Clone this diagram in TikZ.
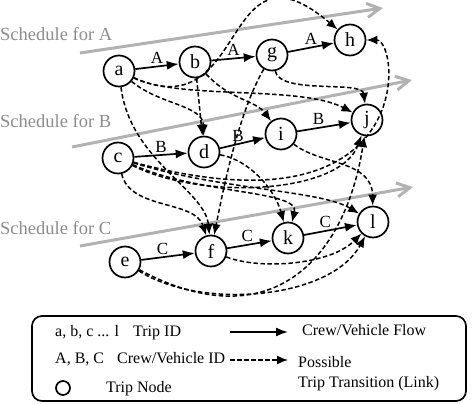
\documentclass[tikz,border=0pt]{standalone}
\usepackage{fontspec}
\setmainfont{Liberation Serif}
\usetikzlibrary{arrows.meta}
\begin{document}
\begin{tikzpicture}[x=1pt,y=-1pt]
\tikzstyle{trip}=[circle,draw,line width=1.7pt,fill=white,minimum size=31pt,inner sep=0pt,font=\fontsize{20}{22}\selectfont]
\tikzstyle{flow}=[line width=1.7pt,-{Latex[length=12pt,width=9pt]}]
\tikzstyle{link}=[line width=1.5pt,dash pattern=on 4.5pt off 2.5pt,-{Latex[length=11pt,width=9pt]}]
\tikzstyle{sched}=[line width=3pt,gray!60,-{Straight Barb[length=13pt,width=14pt]}]
\tikzstyle{schedtext}=[anchor=base west,inner sep=0pt,black!45,font=\fontsize{18.5}{20}\selectfont]
\tikzstyle{crew}=[font=\fontsize{17}{18}\selectfont,inner sep=2pt]
\tikzstyle{legend}=[anchor=base west,inner sep=0pt,font=\fontsize{16}{18}\selectfont]
\useasboundingbox (0,0) rectangle (474,404);
% schedules
\coordinate (schedA0) at (80,53);  \coordinate (schedA1) at (383,8);
\coordinate (schedB0) at (72,147); \coordinate (schedB1) at (412,80);
\coordinate (schedC0) at (80,246); \coordinate (schedC1) at (413,187);
\draw[sched] (schedA0) -- (schedA1);
\draw[sched] (schedB0) -- (schedB1);
\draw[sched] (schedC0) -- (schedC1);
\node[schedtext] (labA) at (0,41) {Schedule for A};
\node[schedtext] (labB) at (0,128) {Schedule for B};
\node[schedtext] (labC) at (0,234) {Schedule for C};
% trips
\node[trip] (a) at (119,71) {a};
\node[trip] (b) at (195,62) {b};
\node[trip] (g) at (272,55) {g};
\node[trip] (h) at (350,40) {h};
\node[trip] (c) at (118,158) {c};
\node[trip] (d) at (204,152) {d};
\node[trip] (i) at (281,134) {i};
\node[trip] (j) at (367,120) {j};
\node[trip] (e) at (125,262) {e};
\node[trip] (f) at (211,251) {f};
\node[trip] (k) at (288,238) {k};
\node[trip] (l) at (373,222) {l};
% crew/vehicle flow
\draw[flow] (a) -- node[crew,above] {A} (b);
\draw[flow] (b) -- node[crew,above] {A} (g);
\draw[flow] (g) -- node[crew,above] {A} (h);
\draw[flow] (c) -- node[crew,above] {B} (d);
\draw[flow] (d) -- node[crew,above,pos=0.4] {B} (i);
\draw[flow] (i) -- node[crew,above,pos=0.4] {B} (j);
\draw[flow] (e) -- node[crew,above,pos=0.4] {C} (f);
\draw[flow] (f) -- node[crew,above,pos=0.45] {C} (k);
\draw[flow] (k) -- node[crew,above,pos=0.4] {C} (l);
% possible links
\draw[link] (a) .. controls (250,130) and (220,-70) .. (h);
\draw[link] (a) .. controls (160,105) and (203,105) .. (d);
\draw[link] (a) .. controls (180,100) and (300,85) .. (j);
\draw[link] (a) .. controls (130,160) and (205,190) .. (f);
\draw[link] (b) -- (d);
\draw[link] (b) .. controls (230,100) and (255,100) .. (i);
\draw[link] (g) .. controls (280,95) and (362,80) .. (j);
\draw[link] (g) .. controls (240,110) and (225,180) .. (f);
\draw[link] (d) .. controls (250,160) and (275,190) .. (k);
\draw[link] (c) .. controls (130,210) and (195,200) .. (f);
\draw[link] (c) .. controls (200,195) and (300,190) .. (k);
\draw[link] (c) .. controls (220,190) and (320,190) .. (l);
\draw[link] (c) .. controls (200,200) and (340,195) .. (j);
\draw[link] (c) .. controls (420,240) and (400,40) .. (h);
\draw[link] (i) .. controls (320,165) and (372,160) .. (l);
\draw[link] (e) .. controls (200,310) and (330,300) .. (l);
\draw[link] (e) .. controls (270,340) and (345,260) .. (j);
\draw[link] (f) .. controls (260,270) and (330,265) .. (l);
% legend
\draw[line width=1.7pt,rounded corners=10pt] (32,316) rectangle (466,401);
\node[legend] (tripid) at (55,336) {a, b, c ... l};
\node[legend] (tripidtxt) at (133,336) {Trip ID};
\coordinate (flow0) at (230,332); \coordinate (flow1) at (288,332);
\draw[flow] (flow0) -- (flow1);
\node[legend] (flowtxt) at (302,335) {Crew/Vehicle Flow};
\node[legend] (crewid) at (55,363) {A, B, C};
\node[legend] (crewidtxt) at (117,363) {Crew/Vehicle ID};
\coordinate (link0) at (230,360); \coordinate (link1) at (288,360);
\draw[link] (link0) -- (link1);
\node[legend] (linktxt) at (298,367) {Possible};
\node[legend] (linktxt2) at (298,387) {Trip Transition (Link)};
\node[circle,draw,line width=1.7pt,minimum size=14pt,inner sep=0pt] (tripnode) at (63,388) {};
\node[legend] (tripnodetxt) at (106,392) {Trip Node};
\end{tikzpicture}
\end{document}
